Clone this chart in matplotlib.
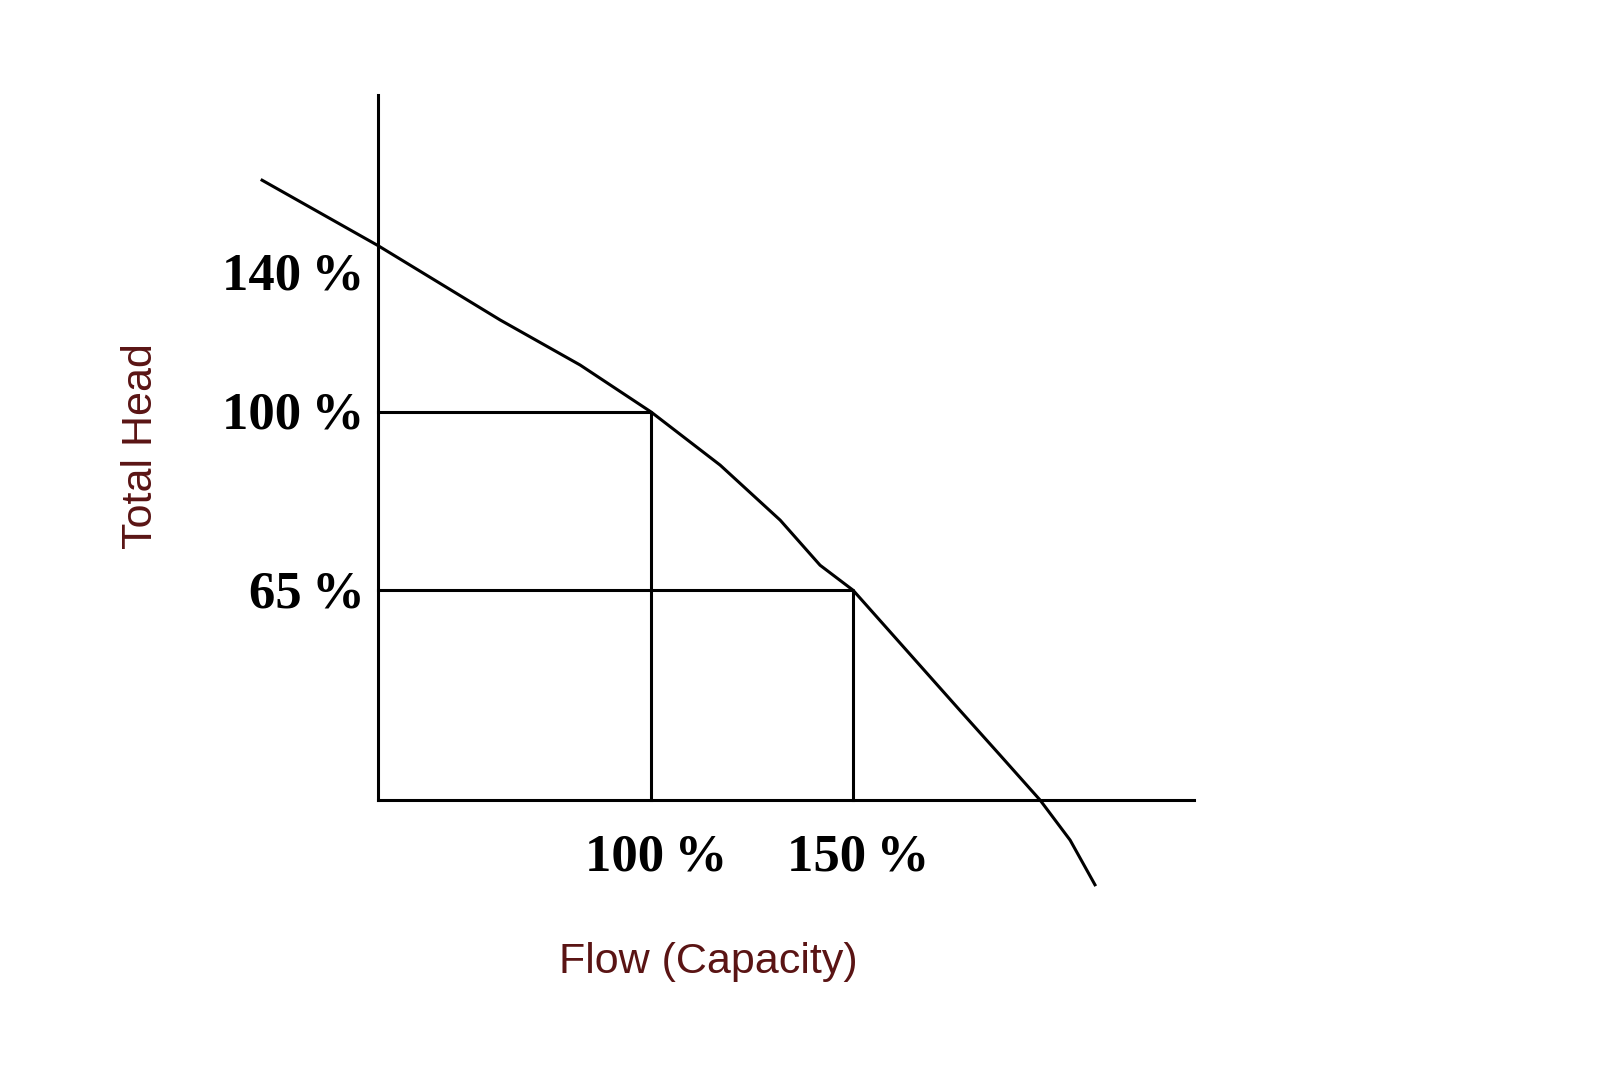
import matplotlib
matplotlib.use("Agg")
import matplotlib.pyplot as plt

# pump curve, schematic units (flow %, head %) as drawn
flow = [-42.5, 0, 44.7, 74, 100, 125.3, 147.3, 161.9, 174, 213, 227.8, 242.5, 253.5, 262.6]
head = [161, 144, 124.7, 113, 100.8, 87, 72.7, 61, 54.5, 23.4, 11.7, 0, -10.4, -22]

x_ticks = [100, 174]
x_labels = ["100\u2009%", "150\u2009%"]
y_ticks = [137, 100.8, 54.5]
y_labels = ["140\u2009%", "100\u2009%", "65\u2009%"]

fig = plt.figure(figsize=(16, 10.85), dpi=100)
ax = fig.add_axes([0, 0, 1, 1])
ax.set_xlim(-138.5, 447.6)
ax.set_ylim(-74, 207.8)
ax.axis("off")

lw = 2.2
ax.plot([0, 0], [0, 183], color="black", lw=lw)
ax.plot([0, 299], [0, 0], color="black", lw=lw)
ax.plot(flow, head, color="black", lw=lw, solid_joinstyle="round")

# guide lines at the rated and overload points
ax.plot([0, 100, 100], [100.8, 100.8, 0], color="black", lw=lw)
ax.plot([0, 174, 174], [54.5, 54.5, 0], color="black", lw=lw)

tick_font = dict(family=["Liberation Serif", "DejaVu Serif"], weight="bold", fontsize=38)
for x, lab in zip(x_ticks, x_labels):
    ax.text(x + 2, -15, lab, ha="center", va="center", **tick_font)
for y, lab in zip(y_ticks, y_labels):
    ax.text(-5, y - 1, lab, ha="right", va="center", **tick_font)

lab_color = "#5a1414"
ax.text(121, -42, "Flow (Capacity)", ha="center", va="center",
        family="Liberation Sans", fontsize=31, color=lab_color)
ax.text(-87, 92, "Total Head", ha="center", va="center", rotation=90,
        family="Liberation Sans", fontsize=31, color=lab_color)

fig.savefig("out.png", dpi=100)
